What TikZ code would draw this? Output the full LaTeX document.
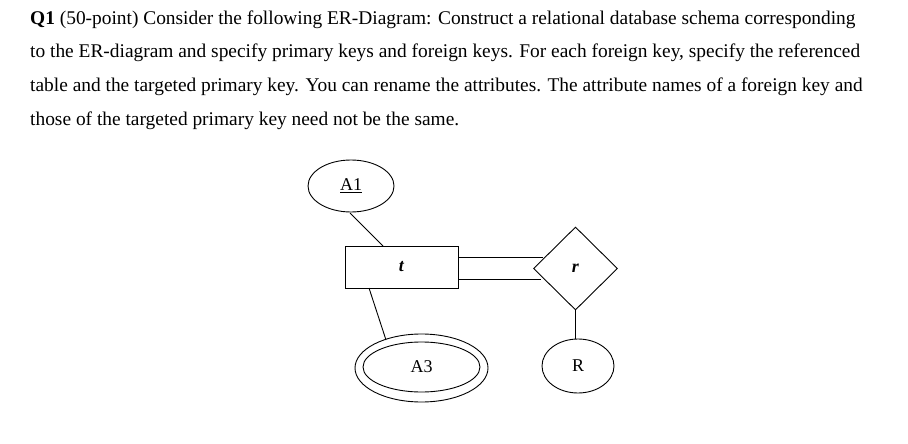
\documentclass[tikz,border=0pt]{standalone}
\usepackage{fontspec}
\setmainfont{Liberation Serif}
\usetikzlibrary{shapes.geometric}
\begin{document}
\begin{tikzpicture}[x=1pt,y=-1pt,
  txt/.style={anchor=base west,inner sep=0pt,font=\fontsize{19.4}{22}\selectfont},
  lbl/.style={font=\fontsize{18}{20}\selectfont},
  ln/.style={line width=0.9pt}]
\useasboundingbox (0,0) rectangle (908,444);
\node[txt] (l1) at (30,25) {\textbf{Q1} (50-point) Consider the following ER-Diagram: Construct a relational database schema corresponding};
\node[txt] (l2) at (30,58) {to the ER-diagram and specify primary keys and foreign keys. For each foreign key, specify the referenced};
\node[txt] (l3) at (30,92) {table and the targeted primary key. You can rename the attributes. The attribute names of a foreign key and};
\node[txt] (l4) at (30,125) {those of the targeted primary key need not be the same.};
\draw[ln] (351,186) ellipse [x radius=43,y radius=26];
\node[lbl] (a1) at (351,186) {\underline{A1}};
\node[ln,draw,minimum width=113pt,minimum height=42pt,lbl] (t) at (401.5,267) {\textbf{\textit{t}}};
\node[ln,draw,diamond,minimum width=84pt,minimum height=83pt,inner sep=0pt,lbl] (r) at (575.5,268.5) {\textbf{\textit{r}}};
\draw[ln] (578,366) ellipse [x radius=36,y radius=27];
\node[lbl] (rr) at (578,366) {R};
\draw[ln] (421.5,368) ellipse [x radius=66.5,y radius=34];
\draw[ln] (421.5,367) ellipse [x radius=58.5,y radius=25];
\node[lbl] (a3) at (421.5,367) {A3};
\coordinate (p1) at (350,213); \coordinate (p2) at (383,246);
\coordinate (q1) at (369,288); \coordinate (q2) at (386,340);
\coordinate (s1) at (575.5,310); \coordinate (s2) at (575.5,339);
\draw[ln] (p1) -- (p2);
\draw[ln] (q1) -- (q2);
\draw[ln] (s1) -- (s2);
\draw[ln] (t.east |- 0,257) -- (543,257);
\draw[ln] (t.east |- 0,279) -- (541,279);
\end{tikzpicture}
\end{document}
